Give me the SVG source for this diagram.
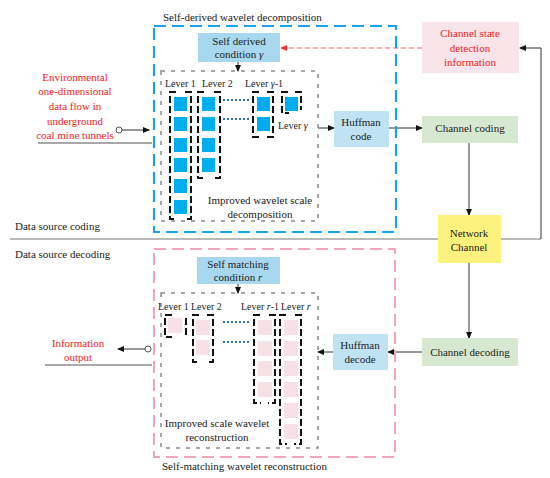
<svg xmlns="http://www.w3.org/2000/svg" width="550" height="478" viewBox="0 0 550 478" font-family="'Liberation Serif', 'DejaVu Serif', serif">
<defs>
<marker id="ah" markerWidth="7" markerHeight="6" refX="6" refY="3" orient="auto" markerUnits="userSpaceOnUse"><path d="M0,0 L7,3 L0,6 Z" fill="#111"/></marker>
<marker id="ahr" markerWidth="7" markerHeight="6" refX="6" refY="3" orient="auto" markerUnits="userSpaceOnUse"><path d="M0,0 L7,3 L0,6 Z" fill="#ff3030"/></marker>
<style>
text{font-family:'Liberation Serif','DejaVu Serif',serif;font-size:11px;fill:#222}
.c{text-anchor:middle}
.red{fill:#f01c24}
.lv{font-size:10px}
.bk{fill:none;stroke:#111;stroke-width:2;stroke-dasharray:7,3}
.sq{fill:#00adef}
.pk{fill:#f7e1e7}
.dot{stroke:#2e75b6;stroke-width:2;stroke-dasharray:2,2}
.ln{stroke:#333;stroke-width:1;fill:none}
.gbox{fill:none;stroke:#8a8a8a;stroke-width:1.5;stroke-dasharray:4,6}
</style>
</defs>
<rect width="550" height="478" fill="#fff"/>

<g id="connectors">
<line x1="10" y1="239" x2="541" y2="239" stroke="#777" stroke-width="1.2"/>
<polyline points="541,239 541,48 520,48" class="ln" stroke="#777" marker-end="url(#ah)"/>
<line x1="238" y1="62" x2="238" y2="71" class="ln" marker-end="url(#ah)"/>
<line x1="422" y1="48" x2="281" y2="48" stroke="#ff5a5a" stroke-width="1.2" stroke-dasharray="5,3" marker-end="url(#ahr)"/>
<circle cx="119" cy="130" r="3" fill="#fff" stroke="#555" stroke-width="1"/>
<line x1="122" y1="130" x2="149" y2="130" class="ln" marker-end="url(#ah)"/>
<line x1="38" y1="143" x2="152" y2="143" stroke="#555" stroke-width="1"/>
<line x1="318" y1="128" x2="334" y2="128" class="ln" marker-end="url(#ah)"/>
<line x1="389" y1="128" x2="422" y2="128" class="ln" marker-end="url(#ah)"/>
<line x1="469" y1="143" x2="469" y2="215" class="ln" marker-end="url(#ah)"/>
<line x1="469" y1="263" x2="469" y2="338" class="ln" marker-end="url(#ah)"/>
<line x1="422" y1="352" x2="388" y2="352" class="ln" marker-end="url(#ah)"/>
<line x1="333" y1="352" x2="318" y2="352" class="ln" marker-end="url(#ah)"/>
<line x1="238" y1="284" x2="238" y2="293" class="ln" marker-end="url(#ah)"/>
<circle cx="148" cy="349" r="3" fill="#fff" stroke="#555" stroke-width="1"/>
<line x1="145" y1="349" x2="118" y2="349" class="ln" marker-end="url(#ah)"/>
<line x1="45" y1="365" x2="152" y2="365" stroke="#555" stroke-width="1"/>
</g>

<g id="labels">
<text x="15" y="230">Data source coding</text>
<text x="15" y="258">Data source decoding</text>
</g>

<g id="input">
<text class="c red" x="75" y="81">Environmental</text>
<text class="c red" x="75" y="95">one-dimensional</text>
<text class="c red" x="75" y="110">data flow in</text>
<text class="c red" x="75" y="125">underground</text>
<text class="c red" x="75" y="139">coal mine tunnels</text>
</g>

<g id="output">
<text class="c red" x="78" y="347">Information</text>
<text class="c red" x="78" y="361">output</text>
</g>

<g id="decomposition">
<rect x="154" y="26" width="242" height="206" fill="none" stroke="#1aa3e8" stroke-width="2.2" stroke-dasharray="12,6"/>
<text x="163" y="21">Self-derived wavelet decomposition</text>
</g>

<g id="self-derived-condition">
<rect x="198" y="33" width="82" height="29" fill="#a8d8ef"/>
<text class="c" x="239" y="45">Self derived</text>
<text class="c" x="239" y="58">condition <tspan font-style="italic">γ</tspan></text>
</g>

<g id="wavelet-decomposition">
<rect class="gbox" x="161" y="71" width="157" height="150"/>
<text class="lv" x="165" y="87">Lever 1</text>
<text class="lv" x="202" y="87">Lever 2</text>
<text class="lv" x="245" y="87">Lever <tspan font-style="italic">γ</tspan>-1</text>
<text class="lv" x="278" y="129">Lever <tspan font-style="italic">γ</tspan></text>
<path class="bk" d="M176,92 H170 V219 H177 M185,92 H191 V219 H184"/>
<path class="bk" d="M204,92 H198 V178 H205 M214,92 H220 V178 H213"/>
<path class="bk" d="M259,92 H253 V137 H260 M267,92 H273 V137 H266"/>
<path class="bk" d="M288,92 H282 V113 H289 M295,92 H301 V110"/>
<rect class="sq" x="174" y="97" width="13" height="14"/>
<rect class="sq" x="174" y="117" width="13" height="14"/>
<rect class="sq" x="174" y="138" width="13" height="14"/>
<rect class="sq" x="174" y="158" width="13" height="14"/>
<rect class="sq" x="174" y="179" width="13" height="14"/>
<rect class="sq" x="174" y="200" width="13" height="14"/>
<rect class="sq" x="202" y="97" width="13" height="14"/>
<rect class="sq" x="202" y="117" width="13" height="14"/>
<rect class="sq" x="202" y="138" width="13" height="14"/>
<rect class="sq" x="202" y="158" width="13" height="14"/>
<rect class="sq" x="257" y="97" width="13" height="14"/>
<rect class="sq" x="257" y="117" width="13" height="14"/>
<rect class="sq" x="285" y="97" width="13" height="14"/>
<line class="dot" x1="223" y1="100" x2="250" y2="100"/>
<line class="dot" x1="223" y1="119" x2="250" y2="119"/>
<text class="c" x="260" y="204">Improved wavelet scale</text>
<text class="c" x="260" y="218">decomposition</text>
</g>

<g id="huffman-code">
<rect x="334" y="111" width="55" height="36" fill="#bfe3f3"/>
<text class="c" x="361" y="126">Huffman</text>
<text class="c" x="361" y="140">code</text>
</g>

<g id="channel-state">
<rect x="422" y="22" width="97" height="51" fill="#f8e4e9"/>
<text class="c red" x="470" y="37">Channel state</text>
<text class="c red" x="470" y="52">detection</text>
<text class="c red" x="470" y="66">information</text>
</g>

<g id="channel-coding">
<rect x="422" y="116" width="96" height="27" fill="#d6e9d0"/>
<text class="c" x="470" y="132">Channel coding</text>
</g>

<g id="network-channel">
<rect x="438" y="215" width="63" height="48" fill="#fdf27e"/>
<text class="c" x="469" y="237">Network</text>
<text class="c" x="469" y="251">Channel</text>
</g>

<g id="channel-decoding">
<rect x="422" y="338" width="96" height="28" fill="#d6e9d0"/>
<text class="c" x="470" y="356">Channel decoding</text>
</g>

<g id="huffman-decode">
<rect x="333" y="334" width="55" height="36" fill="#bfe3f3"/>
<text class="c" x="360" y="349">Huffman</text>
<text class="c" x="360" y="363">decode</text>
</g>

<g id="reconstruction">
<rect x="154" y="249" width="241" height="208" fill="none" stroke="#f2a6bb" stroke-width="2" stroke-dasharray="12,6"/>
<text x="162" y="470">Self-matching wavelet reconstruction</text>
</g>

<g id="self-matching-condition">
<rect x="197" y="257" width="83" height="27" fill="#a8d8ef"/>
<text class="c" x="238" y="268">Self matching</text>
<text class="c" x="238" y="281">condition <tspan font-style="italic">r</tspan></text>
</g>

<g id="wavelet-reconstruction">
<rect class="gbox" x="161" y="293" width="157" height="155"/>
<text class="lv" x="158" y="310">Lever 1</text>
<text class="lv" x="191" y="310">Lever 2</text>
<text class="lv" x="241" y="310">Lever <tspan font-style="italic">r</tspan>-1</text>
<text class="lv" x="281" y="310">Lever <tspan font-style="italic">r</tspan></text>
<rect class="pk" x="168" y="318" width="14" height="15"/>
<rect class="pk" x="196" y="320" width="14" height="15"/>
<rect class="pk" x="196" y="340" width="14" height="15"/>
<rect class="pk" x="258" y="320" width="14" height="15"/>
<rect class="pk" x="258" y="341" width="14" height="15"/>
<rect class="pk" x="258" y="361" width="14" height="15"/>
<rect class="pk" x="258" y="382" width="14" height="15"/>
<rect class="pk" x="284" y="320" width="14" height="15"/>
<rect class="pk" x="284" y="341" width="14" height="15"/>
<rect class="pk" x="284" y="361" width="14" height="15"/>
<rect class="pk" x="284" y="382" width="14" height="15"/>
<rect class="pk" x="284" y="403" width="14" height="15"/>
<rect class="pk" x="284" y="424" width="14" height="15"/>
<path class="bk" d="M172,315 H165 V337 H172 M186,318 V337"/>
<path class="bk" d="M199,315 H193 V362 H200 M207,315 H213 V362 H206"/>
<path class="bk" d="M260,315 H254 V403 H261 M269,315 H275 V403 H268"/>
<path class="bk" d="M286,315 H280 V444 H287 M295,315 H301 V444 H294"/>
<line class="dot" x1="223" y1="322" x2="250" y2="322"/>
<line class="dot" x1="223" y1="342" x2="250" y2="342"/>
<text class="c" x="217" y="427">Improved scale wavelet</text>
<text class="c" x="217" y="441">reconstruction</text>
</g>
</svg>
